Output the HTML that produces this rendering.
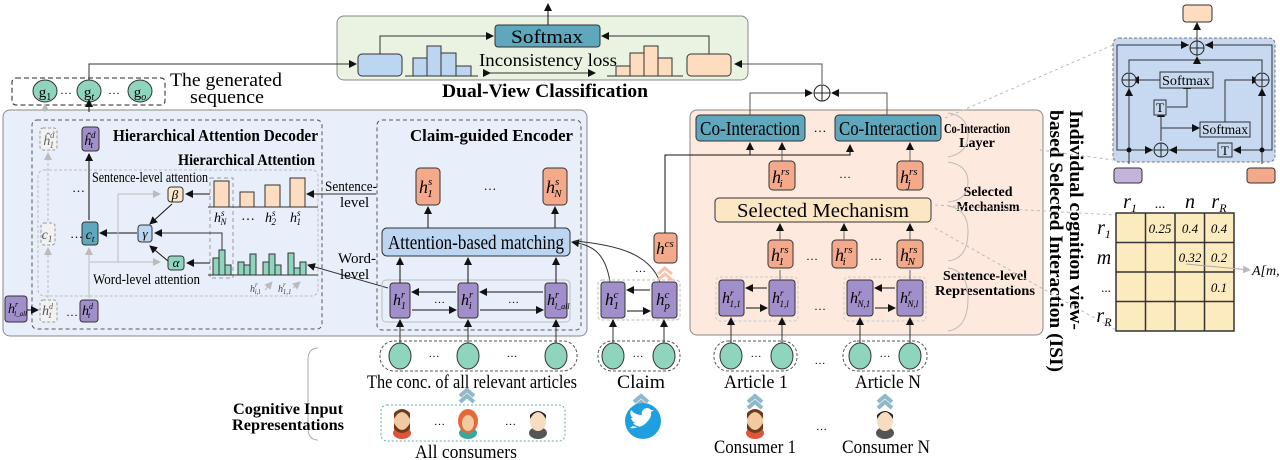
<!DOCTYPE html>
<html><head><meta charset="utf-8"><style>
html,body{margin:0;padding:0;background:#fff;}
svg{display:block;font-family:"Liberation Serif",serif;}
.b{font-weight:bold}
.m{font-style:italic}
</style></head><body>
<svg width="1280" height="460" viewBox="0 0 1280 460" xmlns="http://www.w3.org/2000/svg">
<defs>
<marker id="a" markerWidth="8" markerHeight="8" refX="7" refY="4" orient="auto" markerUnits="userSpaceOnUse"><path d="M0,0 L8,4 L0,8 z" fill="#111"/></marker>
<marker id="g" markerWidth="8" markerHeight="8" refX="7" refY="4" orient="auto" markerUnits="userSpaceOnUse"><path d="M0,0 L8,4 L0,8 z" fill="#bbb"/></marker>
</defs>

<!-- Dual view -->
<rect x="337" y="16" width="411" height="64" rx="7" fill="#eaf3e2" stroke="#888"/>
<line x1="548" y1="25" x2="548" y2="4" stroke="#111" marker-end="url(#a)"/>
<rect x="495" y="25" width="105" height="22" rx="3" fill="#5fa7bd" stroke="#333"/>
<text x="547" y="43" font-size="19" text-anchor="middle" textLength="72" lengthAdjust="spacingAndGlyphs">Softmax</text>
<rect x="358" y="54" width="44" height="22" rx="4" fill="#bcd5f0" stroke="#333"/>
<g fill="#bcd5f0" stroke="#333"><rect x="413" y="58" width="14" height="18"/><rect x="427" y="46" width="14" height="30"/><rect x="441" y="53" width="15" height="23"/><rect x="456" y="66" width="15" height="10"/></g>
<line x1="405" y1="76" x2="478" y2="76" stroke="#333"/>
<text x="548" y="66" font-size="18" text-anchor="middle" textLength="138" lengthAdjust="spacingAndGlyphs">Inconsistency loss</text>
<line x1="490" y1="73" x2="595" y2="73" stroke="#333" marker-end="url(#a)" marker-start="url(#a)"/>
<g fill="#fddcbf" stroke="#333"><rect x="616" y="66" width="14" height="10"/><rect x="630" y="53" width="14" height="23"/><rect x="644" y="46" width="14" height="30"/><rect x="658" y="58" width="14" height="18"/></g>
<line x1="607" y1="76" x2="683" y2="76" stroke="#333"/>
<rect x="687" y="54" width="44" height="22" rx="4" fill="#fddcbf" stroke="#333"/>
<polyline points="380,54 380,36 493,36" fill="none" stroke="#333" marker-end="url(#a)"/>
<polyline points="709,54 709,36 602,36" fill="none" stroke="#333" marker-end="url(#a)"/>
<text x="545" y="97" font-size="19" class="b" text-anchor="middle" textLength="206" lengthAdjust="spacingAndGlyphs">Dual-View Classification</text>

<!-- generated sequence -->
<rect x="12" y="78" width="153" height="27" rx="4" fill="none" stroke="#222" stroke-dasharray="5,3"/>
<g fill="#8fd5bd" stroke="#333"><ellipse cx="45" cy="91" rx="12" ry="11"/><ellipse cx="89" cy="91" rx="12" ry="11"/><ellipse cx="140" cy="91" rx="12" ry="11"/></g>
<text x="45" y="97" font-size="15" text-anchor="middle">g<tspan font-size="10" dy="3">1</tspan></text>
<text x="89" y="97" font-size="15" text-anchor="middle">g<tspan font-size="10" dy="3" class="m">t</tspan></text>
<text x="140" y="97" font-size="15" text-anchor="middle">g<tspan font-size="10" dy="3" class="m">o</tspan></text>
<text x="66" y="94" font-size="12" text-anchor="middle">…</text><text x="114" y="94" font-size="12" text-anchor="middle">…</text>
<text x="170" y="86" font-size="19" textLength="112" lengthAdjust="spacingAndGlyphs">The generated</text>
<text x="190" y="103" font-size="19" textLength="74" lengthAdjust="spacingAndGlyphs">sequence</text>
<polyline points="89,80 89,64 356,64" fill="none" stroke="#333" marker-end="url(#a)"/>

<!-- left panel -->
<rect x="3" y="110" width="584" height="226" rx="7" fill="#e9effa" stroke="#888"/>
<rect x="32" y="120" width="290" height="209" rx="5" fill="none" stroke="#555" stroke-dasharray="4,3"/>
<text x="113" y="141" font-size="17" class="b" textLength="205" lengthAdjust="spacingAndGlyphs">Hierarchical Attention Decoder</text>
<text x="178" y="165" font-size="16" class="b" textLength="137" lengthAdjust="spacingAndGlyphs">Hierarchical Attention</text>
<rect x="38" y="170" width="280" height="126" rx="6" fill="none" stroke="#bbb" stroke-dasharray="3,2"/>
<line x1="89" y1="112" x2="89" y2="100" stroke="#111" marker-end="url(#a)"/>
<line x1="45" y1="112" x2="45" y2="104" stroke="#bbb" marker-end="url(#g)"/>
<rect x="40" y="128" width="17" height="22" rx="3" fill="#f2f2f2" stroke="#999" stroke-dasharray="3,2"/>
<text x="43" y="145" font-size="14" class="m" fill="#666">ĥ<tspan font-size="9" dy="-7">d</tspan><tspan font-size="9" dx="-5" dy="10">1</tspan></text>
<rect x="82" y="127" width="17" height="24" rx="3" fill="#a08fcb" stroke="#333"/>
<text x="84" y="145" font-size="14" class="m">ĥ<tspan font-size="9" dy="-7">d</tspan><tspan font-size="9" dx="-5" dy="10">t</tspan></text>
<text x="92" y="182" font-size="15" textLength="116" lengthAdjust="spacingAndGlyphs">Sentence-level attention</text>
<text x="72" y="192" font-size="13">…</text>
<rect x="210" y="178" width="23" height="100" fill="none" stroke="#999" stroke-dasharray="4,3"/>
<g fill="#fddcbf" stroke="#333"><rect x="214" y="181" width="15" height="26"/><rect x="240" y="192" width="14" height="15"/><rect x="265" y="185" width="15" height="22"/><rect x="290" y="178" width="15" height="29"/></g>
<line x1="208" y1="207" x2="318" y2="207" stroke="#333"/>
<g font-size="14" class="m"><text x="214" y="222">h<tspan font-size="9" dy="-6">s</tspan><tspan font-size="9" dx="-4" dy="9">N</tspan></text><text x="241" y="220" font-style="normal">…</text><text x="265" y="222">h<tspan font-size="9" dy="-6">s</tspan><tspan font-size="9" dx="-4" dy="9">2</tspan></text><text x="290" y="222">h<tspan font-size="9" dy="-6">s</tspan><tspan font-size="9" dx="-4" dy="9">1</tspan></text></g>
<rect x="168" y="187" width="15" height="15" rx="3" fill="#fde9c9" stroke="#333"/>
<text x="175" y="199" font-size="13" class="m" text-anchor="middle">β</text>
<line x1="210" y1="194" x2="186" y2="194" stroke="#111" marker-end="url(#a)"/>
<rect x="138" y="225" width="14" height="17" rx="3" fill="#bcd5f0" stroke="#333"/>
<text x="145" y="238" font-size="13" class="m" text-anchor="middle">γ</text>
<rect x="82" y="222" width="16" height="23" rx="3" fill="#5fa7bd" stroke="#333"/>
<text x="90" y="239" font-size="14" class="m" text-anchor="middle">c<tspan font-size="9" dy="3">t</tspan></text>
<rect x="41" y="223" width="14" height="22" rx="3" fill="#f2f2f2" stroke="#999" stroke-dasharray="3,2"/>
<text x="47" y="239" font-size="14" class="m" text-anchor="middle" fill="#555">c<tspan font-size="9" dy="3">1</tspan></text>
<text x="70" y="238" font-size="13">…</text>
<line x1="137" y1="233" x2="100" y2="233" stroke="#111" marker-end="url(#a)"/>
<line x1="172" y1="204" x2="150" y2="224" stroke="#111" marker-end="url(#a)"/>
<line x1="168" y1="261" x2="150" y2="246" stroke="#111" marker-end="url(#a)"/>
<polyline points="222,258 222,233 155,233" fill="none" stroke="#333" marker-end="url(#a)"/>
<rect x="168" y="256" width="16" height="14" rx="3" fill="#8fd5bd" stroke="#333"/>
<text x="176" y="267" font-size="13" class="m" text-anchor="middle">α</text>
<line x1="210" y1="263" x2="187" y2="263" stroke="#111" marker-end="url(#a)"/>
<polyline points="90,262 160,262" fill="none" stroke="#bbb" marker-end="url(#g)"/>
<polyline points="118,262 118,194 160,194" fill="none" stroke="#bbb" marker-end="url(#g)"/>
<line x1="89" y1="220" x2="89" y2="154" stroke="#555" stroke-width="1.5" marker-end="url(#a)"/>
<line x1="89" y1="298" x2="89" y2="248" stroke="#bbb" marker-end="url(#g)"/>
<line x1="48" y1="298" x2="48" y2="248" stroke="#bbb" stroke-dasharray="3,2" marker-end="url(#g)"/>
<line x1="48" y1="221" x2="48" y2="153" stroke="#bbb" stroke-dasharray="3,2" marker-end="url(#g)"/>
<g fill="#8fd5bd" stroke="#333">
<rect x="213" y="258" width="6" height="17"/><rect x="219" y="250" width="6" height="25"/><rect x="225" y="265" width="6" height="10"/>
<rect x="238" y="262" width="6" height="13"/><rect x="244" y="265" width="6" height="10"/><rect x="250" y="254" width="6" height="21"/>
<rect x="263" y="262" width="6" height="13"/><rect x="269" y="254" width="6" height="21"/><rect x="275" y="265" width="6" height="10"/>
<rect x="288" y="253" width="6" height="22"/><rect x="294" y="268" width="6" height="7"/><rect x="300" y="262" width="6" height="13"/></g>
<line x1="208" y1="275" x2="318" y2="275" stroke="#333"/>
<text x="93" y="284" font-size="15" textLength="107" lengthAdjust="spacingAndGlyphs">Word-level attention</text>
<g font-size="10" class="m" fill="#444"><text x="250" y="292">h<tspan font-size="7" dy="-5">r</tspan><tspan font-size="7" dx="-3" dy="7">i,l</tspan></text><text x="278" y="292">h<tspan font-size="7" dy="-5">r</tspan><tspan font-size="7" dx="-3" dy="7">1,1</tspan></text></g>
<line x1="265" y1="290" x2="272" y2="282" stroke="#bbb" marker-end="url(#g)"/>
<line x1="293" y1="288" x2="300" y2="282" stroke="#bbb" marker-end="url(#g)"/>
<line x1="388" y1="288" x2="308" y2="265" stroke="#333" marker-end="url(#a)"/>
<line x1="376" y1="194" x2="307" y2="194" stroke="#333" marker-end="url(#a)"/>
<!-- bottom decoder -->
<rect x="5" y="296" width="22" height="26" rx="3" fill="#a08fcb" stroke="#333"/>
<text x="8" y="313" font-size="14" class="m">h<tspan font-size="8" dy="-6">r</tspan><tspan font-size="7" dx="-4" dy="9">l_all</tspan></text>
<line x1="27" y1="310" x2="38" y2="310" stroke="#111" marker-end="url(#a)"/>
<rect x="40" y="300" width="17" height="22" rx="3" fill="#f2f2f2" stroke="#999" stroke-dasharray="3,2"/>
<text x="42" y="315" font-size="14" class="m" fill="#555">h<tspan font-size="8" dy="-6">d</tspan><tspan font-size="8" dx="-5" dy="9">1</tspan></text>
<text x="66" y="316" font-size="12">…</text>
<rect x="80" y="300" width="18" height="22" rx="3" fill="#a08fcb" stroke="#333"/>
<text x="82" y="315" font-size="14" class="m">h<tspan font-size="8" dy="-6">d</tspan><tspan font-size="8" dx="-5" dy="9">t</tspan></text>

<!-- encoder -->
<rect x="377" y="120" width="204" height="210" rx="5" fill="none" stroke="#555" stroke-dasharray="4,3"/>
<text x="410" y="141" font-size="17" class="b" textLength="163" lengthAdjust="spacingAndGlyphs">Claim-guided Encoder</text>
<text x="325" y="191" font-size="15" textLength="52" lengthAdjust="spacingAndGlyphs">Sentence-</text><text x="340" y="207" font-size="15">level</text>
<text x="338" y="263" font-size="15">Word-</text><text x="340" y="279" font-size="15">level</text>
<rect x="416" y="168" width="24" height="37" rx="4" fill="#f4a98a" stroke="#333"/>
<rect x="543" y="168" width="24" height="37" rx="4" fill="#f4a98a" stroke="#333"/>
<text x="419" y="193" font-size="18" class="m">h<tspan font-size="11" dy="-8">s</tspan><tspan font-size="11" dx="-5" dy="12">1</tspan></text>
<text x="546" y="193" font-size="18" class="m">h<tspan font-size="11" dy="-8">s</tspan><tspan font-size="11" dx="-5" dy="12">N</tspan></text>
<text x="490" y="190" font-size="13" text-anchor="middle">…</text>
<line x1="428" y1="228" x2="428" y2="207" stroke="#111" marker-end="url(#a)"/>
<line x1="555" y1="228" x2="555" y2="207" stroke="#111" marker-end="url(#a)"/>
<rect x="382" y="228" width="188" height="28" rx="5" fill="#bcd5f0" stroke="#333"/>
<text x="476" y="249" font-size="20" text-anchor="middle" textLength="176" lengthAdjust="spacingAndGlyphs">Attention-based matching</text>
<rect x="382" y="280" width="188" height="42" rx="4" fill="none" stroke="#bbb"/>
<g fill="#a08fcb" stroke="#333"><rect x="390" y="283" width="20" height="35" rx="3"/><rect x="458" y="283" width="20" height="35" rx="3"/><rect x="545" y="283" width="22" height="35" rx="3"/></g>
<g font-size="16" class="m"><text x="393" y="305">h<tspan font-size="10" dy="-7">r</tspan><tspan font-size="10" dx="-4" dy="11">1</tspan></text><text x="461" y="305">h<tspan font-size="10" dy="-7">r</tspan><tspan font-size="10" dx="-4" dy="11">i</tspan></text><text x="547" y="305">h<tspan font-size="10" dy="-7">r</tspan><tspan font-size="8" dx="-4" dy="11">l_all</tspan></text></g>
<line x1="456" y1="292" x2="412" y2="292" stroke="#111" marker-end="url(#a)"/><line x1="543" y1="292" x2="480" y2="292" stroke="#111" marker-end="url(#a)"/>
<line x1="412" y1="310" x2="456" y2="310" stroke="#111" marker-end="url(#a)"/><line x1="480" y1="310" x2="543" y2="310" stroke="#111" marker-end="url(#a)"/>
<text x="434" y="303" font-size="11">…</text><text x="508" y="303" font-size="11">…</text>
<g stroke="#111"><line x1="400" y1="283" x2="400" y2="258" marker-end="url(#a)"/><line x1="468" y1="283" x2="468" y2="258" marker-end="url(#a)"/><line x1="556" y1="283" x2="556" y2="258" marker-end="url(#a)"/></g>
<path d="M610,282 C605,250 590,245 572,242" fill="none" stroke="#333" marker-end="url(#a)"/>
<path d="M660,282 C650,255 620,245 574,241" fill="none" stroke="#333"/>

<!-- claim -->
<rect x="654" y="233" width="23" height="30" rx="4" fill="#f4a98a" stroke="#333"/>
<text x="665" y="254" font-size="17" class="m" text-anchor="middle">h<tspan font-size="11" dy="-7">cs</tspan></text>
<path d="M658,280 l7,-6 l7,6 M658,274 l7,-6 l7,6" fill="none" stroke="#f9c3a8" stroke-width="3"/>
<text x="635" y="272" font-size="11">…</text>
<rect x="598" y="280" width="82" height="40" rx="4" fill="none" stroke="#bbb" stroke-dasharray="3,2"/>
<g fill="#a08fcb" stroke="#333"><rect x="601" y="282" width="24" height="36" rx="3"/><rect x="652" y="282" width="25" height="36" rx="3"/></g>
<g font-size="17" class="m"><text x="605" y="305">h<tspan font-size="11" dy="-7">c</tspan><tspan font-size="11" dx="-5" dy="11">1</tspan></text><text x="656" y="305">h<tspan font-size="11" dy="-7">c</tspan><tspan font-size="11" dx="-5" dy="11">p</tspan></text></g>
<line x1="650" y1="290" x2="627" y2="290" stroke="#111" marker-end="url(#a)"/><line x1="627" y1="311" x2="650" y2="311" stroke="#111" marker-end="url(#a)"/>
<polyline points="665,233 665,155 808,155" fill="none" stroke="#111"/>
<polyline points="808,155 850,155 850,145" fill="none" stroke="#111" marker-end="url(#a)"/>

<!-- right panel -->
<rect x="690" y="110" width="353" height="225" rx="7" fill="#fde9dd" stroke="#888"/>
<polyline points="665,155 850,155 850,145" fill="none" stroke="#111" marker-end="url(#a)"/>
<line x1="750" y1="155" x2="750" y2="143" stroke="#111" marker-end="url(#a)"/>
<rect x="696" y="115" width="109" height="26" rx="4" fill="#5fa7bd" stroke="#333"/>
<text x="750" y="135" font-size="20" text-anchor="middle" textLength="100" lengthAdjust="spacingAndGlyphs">Co-Interaction</text>
<text x="820" y="132" font-size="13" text-anchor="middle">…</text>
<rect x="835" y="115" width="106" height="26" rx="4" fill="#5fa7bd" stroke="#333"/>
<text x="888" y="135" font-size="20" text-anchor="middle" textLength="98" lengthAdjust="spacingAndGlyphs">Co-Interaction</text>
<text x="977" y="133" font-size="14" class="b" text-anchor="middle" textLength="66" lengthAdjust="spacingAndGlyphs">Co-Interaction</text>
<text x="977" y="147" font-size="14" class="b" text-anchor="middle">Layer</text>
<polyline points="740,64 822,64 822,84" fill="none" stroke="#555"/>
<path d="M742,60 L734,64 L742,68 z" fill="#111"/>
<polyline points="750,115 750,93 812,93" fill="none" stroke="#555" marker-end="url(#a)"/>
<polyline points="887,115 887,93 832,93" fill="none" stroke="#555" marker-end="url(#a)"/>
<circle cx="822" cy="93" r="8" fill="#fff" stroke="#222"/><path d="M814,93 h16 M822,85 v16" stroke="#222"/>
<g stroke="#666"><line x1="782" y1="161" x2="782" y2="143" marker-end="url(#a)"/><line x1="910" y1="161" x2="910" y2="143" marker-end="url(#a)"/></g>
<g fill="#f4a98a" stroke="#333"><rect x="769" y="161" width="26" height="29" rx="4"/><rect x="897" y="161" width="26" height="29" rx="4"/>
<rect x="768" y="240" width="25" height="28" rx="4"/><rect x="832" y="240" width="25" height="28" rx="4"/><rect x="897" y="240" width="26" height="28" rx="4"/></g>
<g font-size="18" class="m"><text x="772" y="183">h<tspan font-size="11" dy="-8">rs</tspan><tspan font-size="11" dx="-10" dy="12">i</tspan></text><text x="900" y="183">h<tspan font-size="11" dy="-8">rs</tspan><tspan font-size="11" dx="-10" dy="12">j</tspan></text>
<text x="771" y="261">h<tspan font-size="11" dy="-8">rs</tspan><tspan font-size="11" dx="-10" dy="12">1</tspan></text><text x="835" y="261">h<tspan font-size="11" dy="-8">rs</tspan><tspan font-size="11" dx="-10" dy="12">i</tspan></text><text x="900" y="261">h<tspan font-size="11" dy="-8">rs</tspan><tspan font-size="11" dx="-10" dy="12">N</tspan></text></g>
<text x="845" y="178" font-size="12" text-anchor="middle">…</text>
<text x="812" y="260" font-size="12" text-anchor="middle">…</text><text x="876" y="260" font-size="12" text-anchor="middle">…</text>
<rect x="715" y="198" width="216" height="24" rx="4" fill="#fde6c4" stroke="#333"/>
<text x="823" y="217" font-size="20" text-anchor="middle" textLength="172" lengthAdjust="spacingAndGlyphs">Selected Mechanism</text>
<g stroke="#666"><line x1="780" y1="240" x2="780" y2="224" marker-end="url(#a)"/><line x1="844" y1="240" x2="844" y2="224" marker-end="url(#a)"/><line x1="910" y1="240" x2="910" y2="224" marker-end="url(#a)"/></g>
<text x="988" y="196" font-size="14" class="b" text-anchor="middle">Selected</text>
<text x="988" y="211" font-size="14" class="b" text-anchor="middle" textLength="63" lengthAdjust="spacingAndGlyphs">Mechanism</text>
<text x="985" y="280" font-size="14" class="b" text-anchor="middle" textLength="84" lengthAdjust="spacingAndGlyphs">Sentence-level</text>
<text x="985" y="295" font-size="14" class="b" text-anchor="middle" textLength="100" lengthAdjust="spacingAndGlyphs">Representations</text>
<g fill="none" stroke="#ccc" stroke-dasharray="3,2"><rect x="716" y="277" width="82" height="44" rx="4"/><rect x="844" y="277" width="82" height="44" rx="4"/></g>
<g fill="#a08fcb" stroke="#333"><rect x="719" y="280" width="25" height="36" rx="3"/><rect x="769" y="280" width="26" height="36" rx="3"/><rect x="847" y="280" width="26" height="36" rx="3"/><rect x="897" y="280" width="26" height="36" rx="3"/></g>
<g font-size="16" class="m"><text x="722" y="303">h<tspan font-size="9" dy="-7">r</tspan><tspan font-size="9" dx="-4" dy="11">1,1</tspan></text><text x="772" y="303">h<tspan font-size="9" dy="-7">r</tspan><tspan font-size="9" dx="-4" dy="11">1,l</tspan></text><text x="850" y="303">h<tspan font-size="9" dy="-7">r</tspan><tspan font-size="9" dx="-4" dy="11">N,1</tspan></text><text x="900" y="303">h<tspan font-size="9" dy="-7">r</tspan><tspan font-size="9" dx="-4" dy="11">N,l</tspan></text></g>
<g stroke="#111"><line x1="767" y1="288" x2="746" y2="288" marker-end="url(#a)"/><line x1="746" y1="308" x2="767" y2="308" marker-end="url(#a)"/><line x1="895" y1="288" x2="875" y2="288" marker-end="url(#a)"/><line x1="875" y1="308" x2="895" y2="308" marker-end="url(#a)"/></g>
<text x="820" y="310" font-size="12" text-anchor="middle">…</text>
<g stroke="#666"><line x1="780" y1="280" x2="780" y2="270"/><line x1="910" y1="280" x2="910" y2="270"/></g>
<g fill="none" stroke="#bbb"><path d="M948,113 q20,3 20,22 q0,18 -20,22"/><path d="M948,162 q20,3 20,20 q0,18 -20,20"/><path d="M948,206 q20,3 20,25 q0,28 -20,30"/><path d="M948,268 q20,3 20,30 q0,30 -20,33"/></g>

<!-- vertical title -->
<g transform="translate(1070,110) rotate(90)"><text x="0" y="0" font-size="19" class="b" textLength="220" lengthAdjust="spacingAndGlyphs">Individual cognition view-</text><text x="0" y="20" font-size="19" class="b" textLength="262" lengthAdjust="spacingAndGlyphs">based Selected Interaction (ISI)</text></g>

<!-- top-right detail -->
<g stroke="#bbb" stroke-dasharray="3,3" fill="none"><line x1="945" y1="118" x2="1113" y2="45"/><line x1="1040" y1="150" x2="1113" y2="160"/><line x1="935" y1="205" x2="1116" y2="215"/><line x1="935" y1="228" x2="1116" y2="330"/></g>
<rect x="1183" y="5" width="29" height="17" rx="3" fill="#fddcbf" stroke="#333"/>
<rect x="1113" y="38" width="162" height="124" rx="6" fill="#c6d9f1" stroke="#777" stroke-dasharray="3,2"/>
<g fill="none" stroke="#333">
<polyline points="1129,150 1117,150 1117,45 1189,45"/>
<polyline points="1262,150 1272,150 1272,45 1205,45"/>
<polyline points="1129,164 1129,88"/><polyline points="1262,164 1262,88"/>
<polyline points="1129,150 1153,150"/><polyline points="1169,150 1216,150"/>
<polyline points="1234,150 1262,150"/>
<polyline points="1129,72 1129,60 1262,60 1262,72"/>
<polyline points="1161,141 1161,117"/><polyline points="1161,128 1198,128"/>
<polyline points="1167,107 1187,107 1187,89"/>
<polyline points="1160,80 1139,80"/>
<polyline points="1225,122 1225,80 1252,80"/>
<line x1="1197" y1="56" x2="1197" y2="24"/>
</g>
<g fill="#111"><circle cx="1129" cy="150" r="2.5"/><circle cx="1262" cy="150" r="2.5"/>
<path d="M1139,76 l-8,4 l8,4z M1252,76 l8,4 l-8,4z M1157,117 l4,-8 l4,8z M1183,89 l4,-8 l4,8z M1192,124 l8,4 l-8,4z M1145,146 l8,4 l-8,4z M1177,146 l-8,4 l8,4z M1241,146 l-8,4 l8,4z M1181,41 l8,4 l-8,4z M1213,41 l-8,4 l8,4z M1193,64 l4,-8 l4,8z M1193,30 l4,-8 l4,8z M1125,96 l4,-8 l4,8z M1258,96 l4,-8 l4,8z"/></g>
<g fill="#c6d9f1" stroke="#222"><circle cx="1197" cy="48" r="7"/><circle cx="1129" cy="80" r="7"/><circle cx="1262" cy="80" r="7"/><circle cx="1161" cy="150" r="7"/></g>
<path d="M1190,48h14M1197,41v14M1122,80h14M1129,73v14M1255,80h14M1262,73v14M1154,150h14M1161,143v14" stroke="#222"/>
<rect x="1160" y="72" width="53" height="16" fill="#c6d9f1" stroke="#333"/><text x="1186" y="85" font-size="14" text-anchor="middle" textLength="48" lengthAdjust="spacingAndGlyphs">Softmax</text>
<rect x="1154" y="100" width="12" height="15" fill="#c6d9f1" stroke="#333"/><text x="1160" y="112" font-size="13" text-anchor="middle">T</text>
<rect x="1200" y="122" width="50" height="15" fill="#c6d9f1" stroke="#333"/><text x="1225" y="134" font-size="14" text-anchor="middle" textLength="46" lengthAdjust="spacingAndGlyphs">Softmax</text>
<rect x="1218" y="143" width="14" height="14" fill="#c6d9f1" stroke="#333"/><text x="1225" y="155" font-size="13" text-anchor="middle">T</text>
<rect x="1114" y="168" width="28" height="15" rx="3" fill="#c3b4dc" stroke="#333"/>
<rect x="1247" y="168" width="28" height="15" rx="3" fill="#f4a98a" stroke="#333"/>

<!-- matrix -->
<rect x="1116" y="213" width="118" height="118" fill="#fdebc0"/>
<g stroke="#333" stroke-width="1.5"><path d="M1116,213h118v118h-118z" fill="none"/><path d="M1145.5,213v118M1175,213v118M1204.5,213v118M1116,242.5h118M1116,272h118M1116,301.5h118"/></g>
<g font-size="20" class="m" text-anchor="middle"><text x="1130" y="208">r<tspan font-size="12" dy="4">1</tspan></text><text x="1160" y="208" font-style="normal" font-size="14">...</text><text x="1190" y="208">n</text><text x="1219" y="208">r<tspan font-size="12" dy="4">R</tspan></text>
<text x="1104" y="234">r<tspan font-size="12" dy="4">1</tspan></text><text x="1104" y="264">m</text><text x="1106" y="292" font-style="normal" font-size="13">...</text><text x="1104" y="322">r<tspan font-size="12" dy="4">R</tspan></text></g>
<g font-size="13" class="m" text-anchor="middle"><text x="1160" y="233">0.25</text><text x="1190" y="233">0.4</text><text x="1219" y="233">0.4</text><text x="1190" y="262">0.32</text><text x="1219" y="262">0.2</text><text x="1219" y="292">0.1</text></g>
<line x1="1186" y1="264" x2="1250" y2="270" stroke="#aaa" marker-end="url(#g)"/>
<text x="1252" y="275" font-size="14" class="m">A[m,</text>

<!-- inputs -->
<path d="M318,348 q-10,0 -10,12 v68 q0,12 10,12" fill="none" stroke="#aaa"/>
<text x="288" y="414" font-size="16" class="b" text-anchor="middle" textLength="110" lengthAdjust="spacingAndGlyphs">Cognitive Input</text>
<text x="288" y="430" font-size="16" class="b" text-anchor="middle" textLength="112" lengthAdjust="spacingAndGlyphs">Representations</text>
<g fill="none" stroke="#555" stroke-dasharray="3,2"><rect x="380" y="341" width="197" height="30" rx="14"/><rect x="598" y="341" width="82" height="30" rx="14"/><rect x="714" y="341" width="83" height="30" rx="14"/><rect x="843" y="341" width="84" height="30" rx="14"/></g>
<g stroke="#333"><line x1="400" y1="345" x2="400" y2="320" marker-end="url(#a)"/><line x1="468" y1="345" x2="468" y2="320" marker-end="url(#a)"/><line x1="556" y1="345" x2="556" y2="320" marker-end="url(#a)"/>
<line x1="613" y1="345" x2="613" y2="320" marker-end="url(#a)"/><line x1="664" y1="345" x2="664" y2="320" marker-end="url(#a)"/>
<line x1="731" y1="345" x2="731" y2="318" marker-end="url(#a)"/><line x1="782" y1="345" x2="782" y2="318" marker-end="url(#a)"/><line x1="860" y1="345" x2="860" y2="318" marker-end="url(#a)"/><line x1="910" y1="345" x2="910" y2="318" marker-end="url(#a)"/></g>
<g fill="#8fd5bd" stroke="#333"><ellipse cx="400" cy="356" rx="11" ry="13"/><ellipse cx="468" cy="356" rx="11" ry="13"/><ellipse cx="556" cy="356" rx="11" ry="13"/><ellipse cx="613" cy="356" rx="11" ry="13"/><ellipse cx="664" cy="356" rx="11" ry="13"/><ellipse cx="731" cy="356" rx="11" ry="13"/><ellipse cx="782" cy="356" rx="11" ry="13"/><ellipse cx="860" cy="356" rx="11" ry="13"/><ellipse cx="910" cy="356" rx="11" ry="13"/></g>
<g font-size="11" text-anchor="middle"><text x="434" y="357">…</text><text x="512" y="357">…</text><text x="638" y="357">…</text><text x="756" y="357">…</text><text x="820" y="364">…</text><text x="885" y="357">…</text></g>
<g font-size="19" text-anchor="middle"><text x="472" y="388" textLength="210" lengthAdjust="spacingAndGlyphs">The conc. of all relevant articles</text><text x="641" y="388" textLength="48" lengthAdjust="spacingAndGlyphs">Claim</text><text x="756" y="388" textLength="64" lengthAdjust="spacingAndGlyphs">Article 1</text><text x="888" y="388" textLength="66" lengthAdjust="spacingAndGlyphs">Article N</text>
<text x="466" y="458" textLength="102" lengthAdjust="spacingAndGlyphs">All consumers</text><text x="755" y="453" textLength="82" lengthAdjust="spacingAndGlyphs">Consumer 1</text><text x="886" y="453" textLength="88" lengthAdjust="spacingAndGlyphs">Consumer N</text></g>
<g fill="none" stroke="#8fb8c8" stroke-width="4"><path d="M460,402 l7,-6 l7,6 M460,396 l7,-6 l7,6"/><path d="M634,408 l7,-6 l7,6 M634,402 l7,-6 l7,6"/><path d="M748,408 l7,-6 l7,6 M748,402 l7,-6 l7,6"/><path d="M878,408 l7,-6 l7,6 M878,402 l7,-6 l7,6"/></g>
<rect x="381" y="405" width="184" height="36" rx="6" fill="none" stroke="#6aa" stroke-dasharray="2,2"/>
<g>
<g transform="translate(402,423)"><ellipse cx="0" cy="10" rx="9" ry="6" fill="#e0553a"/><ellipse cx="0" cy="-2" rx="8" ry="10" fill="#f3c9a0"/><path d="M-8,-4 q8,-14 16,0 v-6 q-8,-8 -16,0z" fill="#6b3d1e"/><path d="M-8,0 q8,14 16,0 v6 q-8,8 -16,0z" fill="#6b3d1e"/></g>
<g transform="translate(468,423)"><ellipse cx="0" cy="10" rx="9" ry="6" fill="#3aa6a0"/><ellipse cx="0" cy="-2" rx="10" ry="12" fill="#e46a3a"/><ellipse cx="0" cy="0" rx="6" ry="8" fill="#f3c9a0"/></g>
<g transform="translate(538,423)"><ellipse cx="0" cy="10" rx="9" ry="6" fill="#555"/><ellipse cx="0" cy="-2" rx="8" ry="10" fill="#f6dcc0"/><path d="M-8,-4 q8,-14 16,0 v-4 q-8,-8 -16,0z" fill="#222"/></g>
<g transform="translate(755,423)"><ellipse cx="0" cy="10" rx="9" ry="6" fill="#e0553a"/><ellipse cx="0" cy="-2" rx="8" ry="10" fill="#f3c9a0"/><path d="M-8,-4 q8,-14 16,0 v-6 q-8,-8 -16,0z" fill="#6b3d1e"/><path d="M-8,0 q8,14 16,0 v6 q-8,8 -16,0z" fill="#6b3d1e"/></g>
<g transform="translate(885,423)"><ellipse cx="0" cy="10" rx="9" ry="6" fill="#555"/><ellipse cx="0" cy="-2" rx="8" ry="10" fill="#f6dcc0"/><path d="M-8,-4 q8,-14 16,0 v-4 q-8,-8 -16,0z" fill="#222"/></g>
</g>
<text x="434" y="425" font-size="11">…</text><text x="505" y="425" font-size="11">…</text><text x="816" y="430" font-size="11">…</text>
<circle cx="643" cy="421" r="18" fill="#1d9fe0"/>
<path d="M633,426 q8,3 14,-4 q5,-5 4,-10 l3,-2 l-3,0 q-4,-4 -8,0 q-2,2 -1,5 q-7,0 -11,-5 q-2,5 2,8 l-2,0 q1,4 5,5 l-3,0 q2,3 6,3 q-4,3 -9,2z" fill="#fff"/>
</svg>
</body></html>
